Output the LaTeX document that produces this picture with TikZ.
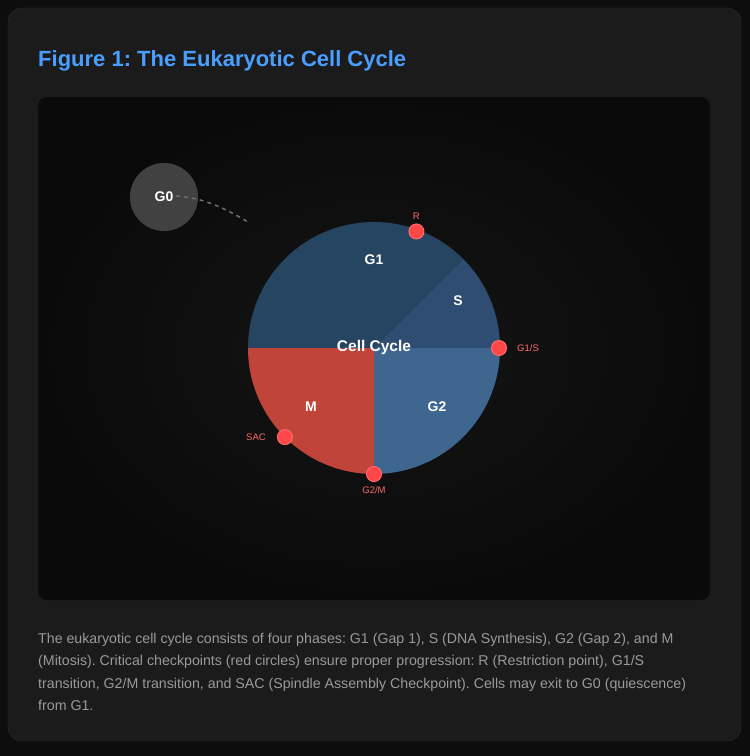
\documentclass[tikz,border=0pt]{standalone}
\usepackage{fontspec}
\setmainfont{Liberation Sans}
\usetikzlibrary{positioning}
\frenchspacing
\definecolor{pagebg}{HTML}{0D0D0D}
\definecolor{cardbg}{HTML}{1B1B1B}
\definecolor{cardline}{HTML}{303030}
\definecolor{panelin}{HTML}{151515}
\definecolor{panelout}{HTML}{0A0A0A}
\definecolor{titleblue}{HTML}{4A9EFF}
\definecolor{gone}{HTML}{264560}
\definecolor{sphase}{HTML}{2F4D72}
\definecolor{gtwo}{HTML}{3E668F}
\definecolor{mphase}{HTML}{C0443A}
\definecolor{gzero}{HTML}{414141}
\definecolor{checkred}{HTML}{FF4747}
\definecolor{checktext}{HTML}{FF6B6B}
\definecolor{captiongray}{HTML}{9A9A9A}
\definecolor{dashgray}{HTML}{6E6E6E}
\tikzset{
  phase/.style={text=white, font=\bfseries\fontsize{14}{16}\selectfont},
  checkpoint/.style={circle, fill=checkred, draw=checktext, line width=1pt, minimum size=15pt, inner sep=0pt},
  checklabel/.style={text=checktext, font=\fontsize{9.5}{11}\selectfont, inner sep=1pt},
}
\begin{document}
\begin{tikzpicture}[x=1pt,y=-1pt]
    % Draw the card
    \fill[pagebg] (0,0) rectangle (750,756);
    \filldraw[fill=cardbg, draw=cardline, rounded corners=14pt] (8,8) rectangle (741,741);
    \shade[inner color=panelin, outer color=panelout, rounded corners=9pt] (38,97) rectangle (710,600);
    \node[anchor=base west, inner sep=0pt, text=titleblue, font=\bfseries\fontsize{22}{26}\selectfont] (title) at (38,66) {Figure 1: The Eukaryotic Cell Cycle};

    % Draw the phases
    \begin{scope}[shift={(374,348)}, y=1pt]
    \fill[gone] (0,0) -- (45:126) arc[start angle=45, end angle=180, radius=126] -- cycle;
    \fill[sphase] (0,0) -- (0:126) arc[start angle=0, end angle=45, radius=126] -- cycle;
    \fill[gtwo] (0,0) -- (270:126) arc[start angle=270, end angle=360, radius=126] -- cycle;
    \fill[mphase] (0,0) -- (180:126) arc[start angle=180, end angle=270, radius=126] -- cycle;
    \node[checkpoint] (r) at (70:124) {};
    \node[checkpoint] (g1s) at (0:125) {};
    \node[checkpoint] (g2m) at (270:126) {};
    \node[checkpoint] (sac) at (225:126) {};
    \end{scope}
    \node[phase] (g1) at (374,260) {G1};
    \node[phase] (s) at (458,301) {S};
    \node[phase] (g2) at (437,407) {G2};
    \node[phase] (m) at (311,407) {M};
    \node[text=white, font=\bfseries\fontsize{15.5}{18}\selectfont] (cc) at (374,347) {Cell Cycle};

    % Checkpoint labels
    \node[checklabel, above=3pt of r] (rlab) {R};
    \node[checklabel, right=9pt of g1s] (g1slab) {G1/S};
    \node[checklabel, below=3pt of g2m] (g2mlab) {G2/M};
    \node[checklabel, left=10pt of sac] (saclab) {SAC};

    % Quiescence
    \node[circle, fill=gzero, minimum size=68pt, text=white, font=\bfseries\fontsize{14}{16}\selectfont] (g0) at (164,197) {G0};
    \coordinate (g0end) at (248,222);
    \draw[dashgray, line width=1.5pt, dash pattern=on 4pt off 4pt] ([xshift=12pt,yshift=1pt]g0.center) .. controls (205,198) and (226,209) .. (g0end);

    \node[anchor=north west, align=left, inner sep=0pt, text=captiongray, font=\fontsize{14.2}{22.5}\selectfont] (caption) at (38,633)
      {The eukaryotic cell cycle consists of four phases: G1 (Gap 1), S (DNA Synthesis), G2 (Gap 2), and M\\
       (Mitosis). Critical checkpoints (red circles) ensure proper progression: R (Restriction point), G1/S\\
       transition, G2/M transition, and SAC (Spindle Assembly Checkpoint). Cells may exit to G0 (quiescence)\\
       from G1.};
\end{tikzpicture}
\end{document}
